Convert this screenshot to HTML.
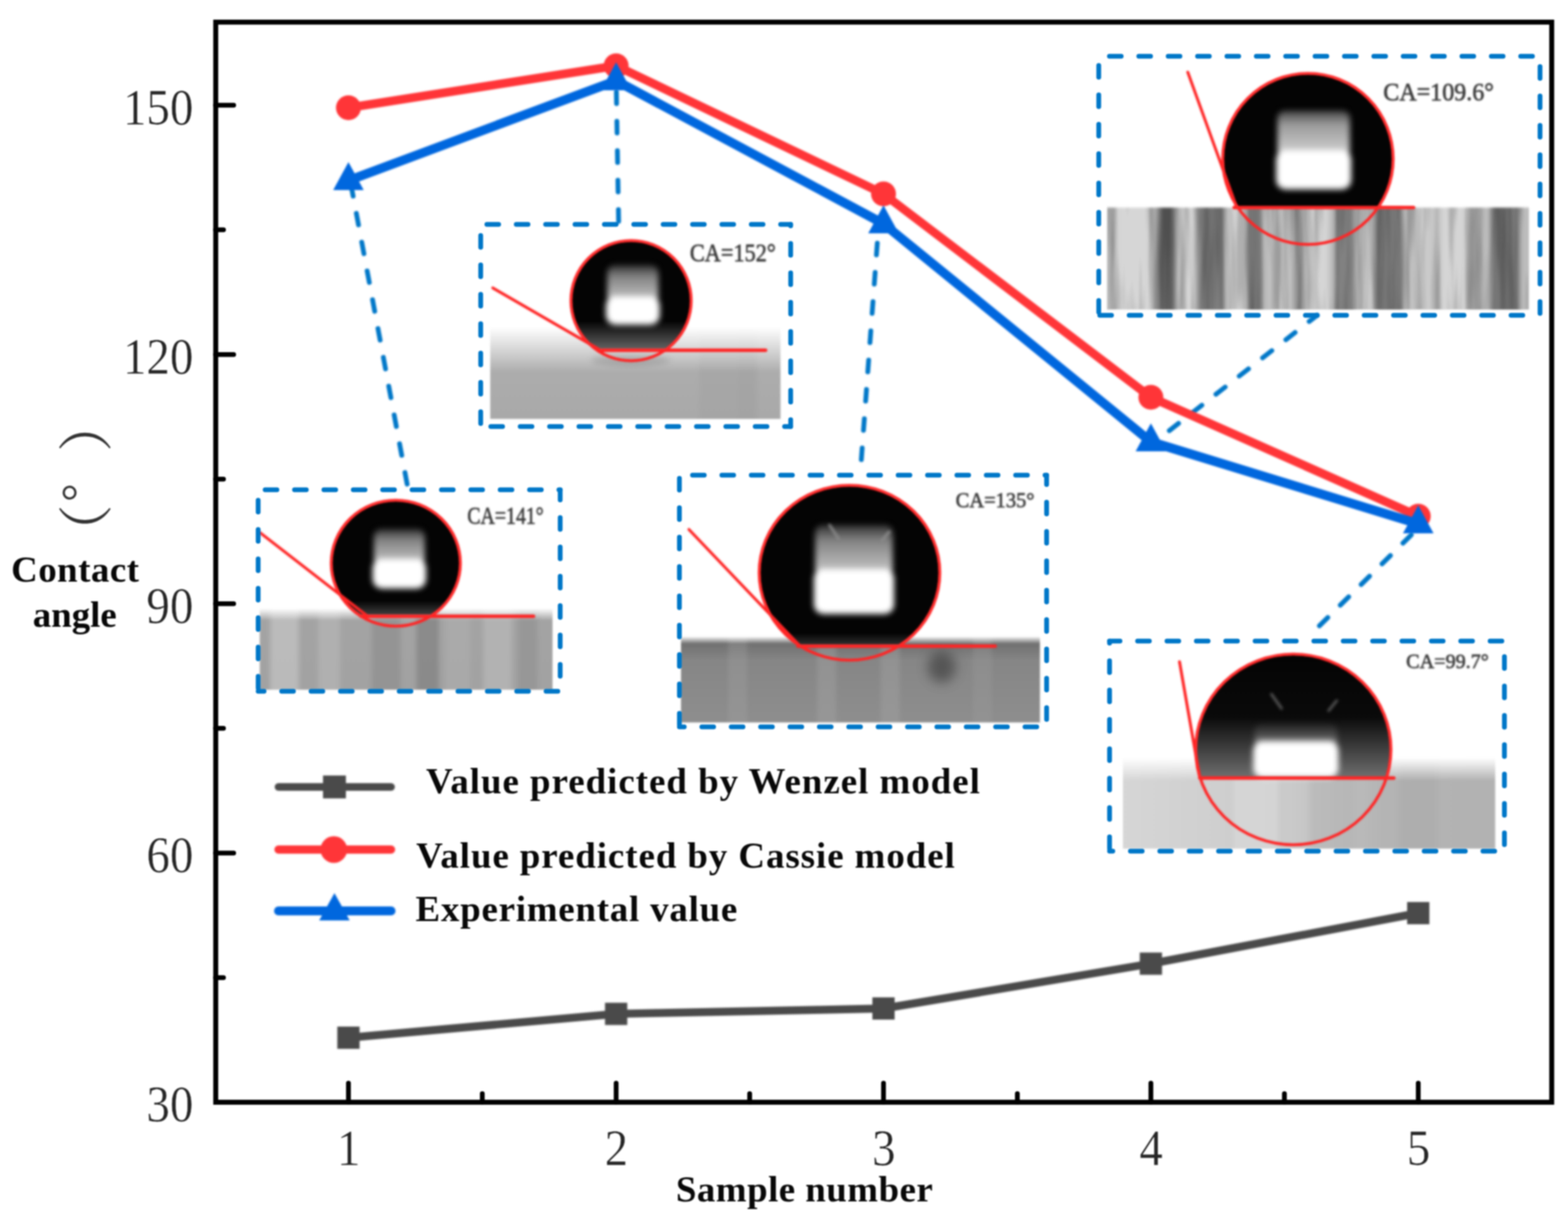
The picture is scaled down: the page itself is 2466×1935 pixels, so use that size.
<!DOCTYPE html>
<html lang="en"><head><meta charset="utf-8"><title>Contact angle vs sample number</title>
<style>
html,body{margin:0;padding:0;background:#fff;}
body{width:2466px;height:1935px;overflow:hidden;}
svg{display:block;}
.tick{font-family:"Liberation Serif","Noto Serif CJK SC",serif;font-size:80.5px;fill:#262626;stroke:#fff;stroke-width:0.5px;paint-order:fill stroke;}
.lab{font-family:"Liberation Serif","Noto Serif CJK SC",serif;font-size:58px;font-weight:bold;fill:#080808;}
.ca{font-family:"Liberation Serif",serif;fill:#383838;stroke:#383838;stroke-width:0.9px;}
.unit{font-family:"Liberation Serif","Noto Serif CJK SC",serif;fill:#333;}
</style></head><body>
<svg width="2466" height="1935" viewBox="0 0 2466 1935">
<defs>
<filter id="soft" color-interpolation-filters="sRGB" x="0" y="0" width="2466" height="1935" filterUnits="userSpaceOnUse"><feGaussianBlur stdDeviation="1.15"/></filter>
<filter id="b2" color-interpolation-filters="sRGB" x="-20%" y="-20%" width="140%" height="140%"><feGaussianBlur stdDeviation="2"/></filter>
<filter id="b3" color-interpolation-filters="sRGB" x="-20%" y="-20%" width="140%" height="140%"><feGaussianBlur stdDeviation="3.5"/></filter>
<filter id="b5" color-interpolation-filters="sRGB" x="-30%" y="-30%" width="160%" height="160%"><feGaussianBlur stdDeviation="5"/></filter>
<filter id="b9" color-interpolation-filters="sRGB" x="-60%" y="-60%" width="220%" height="220%"><feGaussianBlur stdDeviation="9"/></filter>
<filter id="s1" color-interpolation-filters="sRGB" x="0" y="0" width="2466" height="1935" filterUnits="userSpaceOnUse"><feGaussianBlur stdDeviation="1.1"/></filter>
<filter id="b1" color-interpolation-filters="sRGB" x="-5%" y="-5%" width="110%" height="110%"><feGaussianBlur stdDeviation="0.8"/></filter>
<filter id="bt" color-interpolation-filters="sRGB" x="-5%" y="-20%" width="110%" height="140%"><feGaussianBlur stdDeviation="1.3"/></filter>
<filter id="noise" color-interpolation-filters="sRGB" x="0" y="0" width="100%" height="100%">
<feTurbulence type="fractalNoise" baseFrequency="0.075 0.004" numOctaves="3" seed="11" result="n"/>
<feColorMatrix in="n" type="matrix" values="0 0 0 0 0  0 0 0 0 0  0 0 0 0 0  2.6 0 0 0 -0.95" result="a"/>
<feGaussianBlur in="a" stdDeviation="1.6" result="ab"/>
<feComposite in="ab" in2="SourceGraphic" operator="in"/>
</filter>
</defs>
<rect width="2466" height="1935" fill="#fff"/>
<g filter="url(#soft)">

<g id="inset1">
<defs>
<linearGradient id="sm1" gradientUnits="userSpaceOnUse" x1="0" y1="957" x2="0" y2="976"><stop offset="0" stop-color="#000"/><stop offset="1" stop-color="#fff"/></linearGradient>
<mask id="mk1" maskUnits="userSpaceOnUse" x="398.5" y="947" width="480.5" height="148"><rect x="408.5" y="957" width="460.5" height="128" fill="url(#sm1)" filter="url(#b1)"/></mask>
<linearGradient id="sg1" gradientUnits="userSpaceOnUse" x1="0" y1="963" x2="0" y2="1085"><stop offset="0" stop-color="#a4a4a4"/><stop offset="1" stop-color="#a2a2a2"/></linearGradient>
<linearGradient id="hg1" x1="0" y1="0" x2="0" y2="1"><stop offset="0" stop-color="#333"/><stop offset="0.3" stop-color="#828282"/><stop offset="1" stop-color="#cecece"/></linearGradient>
<linearGradient id="dg1" gradientUnits="userSpaceOnUse" x1="0" y1="787" x2="0" y2="985"><stop offset="0.0000" stop-color="#040404" stop-opacity="1"/><stop offset="0.7980" stop-color="#040404" stop-opacity="1"/><stop offset="0.9040" stop-color="#3c3c3c" stop-opacity="1"/><stop offset="0.9268" stop-color="#555" stop-opacity="0"/><stop offset="1.0253" stop-color="#555" stop-opacity="0"/></linearGradient>
<clipPath id="cc1"><ellipse cx="622.5" cy="886" rx="100.5" ry="98"/></clipPath>
</defs>
<g mask="url(#mk1)"><rect x="403.5" y="952" width="470.5" height="138" fill="url(#sg1)"/>
<g filter="url(#b3)">
<rect x="425" y="942" width="45" height="158" fill="#c4c4c4" opacity="0.7"/>
<rect x="500" y="942" width="35" height="158" fill="#bdbdbd" opacity="0.5"/>
<rect x="585" y="942" width="45" height="158" fill="#8a8a8a" opacity="0.6"/>
<rect x="655" y="942" width="35" height="158" fill="#808080" opacity="0.7"/>
<rect x="700" y="942" width="40" height="158" fill="#b4b4b4" opacity="0.4"/>
<rect x="760" y="942" width="45" height="158" fill="#bcbcbc" opacity="0.6"/>
<rect x="815" y="942" width="30" height="158" fill="#8c8c8c" opacity="0.5"/>
</g>
</g>
<g clip-path="url(#cc1)">
<rect x="516.0" y="782" width="213.0" height="208" fill="url(#dg1)"/>
<g filter="url(#b5)"><rect x="588" y="832" width="80" height="59" rx="12" fill="url(#hg1)"/>
<rect x="586" y="879" width="84" height="47" rx="15" fill="#fff"/></g>
</g>
<g fill="none" stroke="#ff2525" stroke-linecap="round" filter="url(#b1)">
<ellipse cx="622.5" cy="886" rx="101.5" ry="99" stroke-width="4.6"/>
<line x1="568" y1="969.5" x2="839" y2="969.5" stroke-width="5.5"/>
<line x1="409" y1="838" x2="579" y2="970" stroke-width="4.6"/>
</g>
<text class="ca" x="735" y="824" font-size="37" textLength="120" lengthAdjust="spacingAndGlyphs" filter="url(#bt)">CA=141°</text>
<g fill="none" stroke="#0077c8" stroke-width="7.5" stroke-linecap="round" stroke-dasharray="18.5 27.7">
<line x1="406" y1="770.5" x2="881" y2="770.5" stroke-dashoffset="-11.0"/>
<line x1="881" y1="770.5" x2="881" y2="1087.5" stroke-dashoffset="-43.7"/>
<line x1="406" y1="1087.5" x2="881" y2="1087.5" stroke-dashoffset="-37.0"/>
<line x1="406" y1="770.5" x2="406" y2="1087.5" stroke-dashoffset="-16.4"/>
</g>
</g>
<g id="inset2">
<defs>
<linearGradient id="sm2" gradientUnits="userSpaceOnUse" x1="0" y1="514" x2="0" y2="585"><stop offset="0" stop-color="#000"/><stop offset="1" stop-color="#fff"/></linearGradient>
<mask id="mk2" maskUnits="userSpaceOnUse" x="761" y="504" width="476.5" height="165"><rect x="771" y="514" width="456.5" height="145" fill="url(#sm2)" filter="url(#b1)"/></mask>
<linearGradient id="sg2" gradientUnits="userSpaceOnUse" x1="0" y1="518" x2="0" y2="659"><stop offset="0" stop-color="#b0b0b0"/><stop offset="1" stop-color="#a9a9a9"/></linearGradient>
<linearGradient id="hg2" x1="0" y1="0" x2="0" y2="1"><stop offset="0" stop-color="#333"/><stop offset="0.3" stop-color="#828282"/><stop offset="1" stop-color="#cecece"/></linearGradient>
<linearGradient id="dg2" gradientUnits="userSpaceOnUse" x1="0" y1="378.5" x2="0" y2="567.5"><stop offset="-0.0026" stop-color="#040404" stop-opacity="1"/><stop offset="0.6693" stop-color="#040404" stop-opacity="1"/><stop offset="0.8968" stop-color="#606060" stop-opacity="1"/><stop offset="0.9206" stop-color="#777" stop-opacity="0"/><stop offset="1.0132" stop-color="#777" stop-opacity="0"/></linearGradient>
<clipPath id="cc2"><ellipse cx="992.5" cy="473" rx="93.5" ry="93.5"/></clipPath>
</defs>
<g mask="url(#mk2)"><rect x="766" y="509" width="466.5" height="155" fill="url(#sg2)"/>
<g filter="url(#b3)">
<rect x="1100" y="499" width="60" height="175" fill="#a0a0a0" opacity="0.4"/>
<rect x="1160" y="499" width="30" height="175" fill="#9c9c9c" opacity="0.4"/>
</g>
<ellipse cx="992" cy="566" rx="62" ry="9" fill="#707070" opacity="0.55" filter="url(#b5)"/>
</g>
<g clip-path="url(#cc2)">
<rect x="893.0" y="373.5" width="199.0" height="199.0" fill="url(#dg2)"/>
<g filter="url(#b5)"><rect x="955" y="417" width="80.5" height="61" rx="12" fill="url(#hg2)"/>
<rect x="953" y="466" width="84.5" height="45" rx="15" fill="#fff"/></g>
</g>
<g fill="none" stroke="#ff2525" stroke-linecap="round" filter="url(#b1)">
<ellipse cx="992.5" cy="473" rx="94.5" ry="94.5" stroke-width="4.6"/>
<line x1="948" y1="551" x2="1204" y2="551" stroke-width="5.5"/>
<line x1="775" y1="453" x2="948" y2="553" stroke-width="4.6"/>
</g>
<text class="ca" x="1085" y="410.5" font-size="40" textLength="135" lengthAdjust="spacingAndGlyphs" filter="url(#bt)">CA=152°</text>
<g fill="none" stroke="#0077c8" stroke-width="7.5" stroke-linecap="round" stroke-dasharray="18.5 27.7">
<line x1="756" y1="353" x2="1243.5" y2="353" stroke-dashoffset="-9.7"/>
<line x1="1243.5" y1="353" x2="1243.5" y2="671" stroke-dashoffset="-30.0"/>
<line x1="756" y1="671" x2="1243.5" y2="671" stroke-dashoffset="-15.9"/>
<line x1="756" y1="353" x2="756" y2="671" stroke-dashoffset="-17.6"/>
</g>
</g>
<g id="inset3">
<defs>
<linearGradient id="sm3" gradientUnits="userSpaceOnUse" x1="0" y1="1001" x2="0" y2="1013"><stop offset="0" stop-color="#000"/><stop offset="1" stop-color="#fff"/></linearGradient>
<mask id="mk3" maskUnits="userSpaceOnUse" x="1061" y="991" width="584.5" height="155.5"><rect x="1071" y="1001" width="564.5" height="135.5" fill="url(#sm3)" filter="url(#b1)"/></mask>
<linearGradient id="sg3" gradientUnits="userSpaceOnUse" x1="0" y1="1007" x2="0" y2="1136"><stop offset="0" stop-color="#6c6c6c"/><stop offset="0.25" stop-color="#868686"/><stop offset="1" stop-color="#8e8e8e"/></linearGradient>
<linearGradient id="hg3" x1="0" y1="0" x2="0" y2="1"><stop offset="0" stop-color="#333"/><stop offset="0.3" stop-color="#828282"/><stop offset="1" stop-color="#cecece"/></linearGradient>
<linearGradient id="dg3" gradientUnits="userSpaceOnUse" x1="0" y1="763.5" x2="0" y2="1038.5"><stop offset="-0.0018" stop-color="#040404" stop-opacity="1"/><stop offset="0.8455" stop-color="#040404" stop-opacity="1"/><stop offset="0.9073" stop-color="#2c2c2c" stop-opacity="1"/><stop offset="0.9236" stop-color="#555" stop-opacity="0"/><stop offset="1.0055" stop-color="#555" stop-opacity="0"/></linearGradient>
<clipPath id="cc3"><ellipse cx="1336" cy="901" rx="141" ry="136.5"/></clipPath>
</defs>
<g mask="url(#mk3)"><rect x="1066" y="996" width="574.5" height="145.5" fill="url(#sg3)"/>
<g filter="url(#b3)">
<rect x="1145" y="986" width="30" height="165.5" fill="#a4a4a4" opacity="0.3"/>
<rect x="1285" y="986" width="30" height="165.5" fill="#a8a8a8" opacity="0.35"/>
<rect x="1385" y="986" width="30" height="165.5" fill="#a8a8a8" opacity="0.35"/>
<rect x="1530" y="986" width="30" height="165.5" fill="#a0a0a0" opacity="0.3"/>
</g>
<ellipse cx="1481" cy="1049" rx="22" ry="25" fill="#454545" opacity="0.75" filter="url(#b9)"/>
</g>
<g clip-path="url(#cc3)">
<rect x="1189" y="758.5" width="294" height="285.0" fill="url(#dg3)"/>
<g filter="url(#b5)"><rect x="1282" y="826" width="122" height="81" rx="12" fill="url(#hg3)"/>
<rect x="1280" y="895" width="126" height="71" rx="15" fill="#fff"/></g>
<g stroke="#8c8c8c" stroke-width="4" stroke-linecap="round" filter="url(#b2)"><line x1="1304.5" y1="826" x2="1319" y2="848"/><line x1="1387" y1="851" x2="1398.5" y2="836.5"/></g>
</g>
<g fill="none" stroke="#ff2525" stroke-linecap="round" filter="url(#b1)">
<ellipse cx="1336" cy="901" rx="142" ry="137.5" stroke-width="4.6"/>
<line x1="1255" y1="1016.5" x2="1565" y2="1016.5" stroke-width="5.5"/>
<line x1="1083.5" y1="833" x2="1258" y2="1016" stroke-width="4.6"/>
</g>
<text class="ca" x="1503" y="798" font-size="34" textLength="124" lengthAdjust="spacingAndGlyphs" filter="url(#bt)">CA=135°</text>
<g fill="none" stroke="#0077c8" stroke-width="7.5" stroke-linecap="round" stroke-dasharray="18.5 27.7">
<line x1="1068.5" y1="747.5" x2="1646" y2="747.5" stroke-dashoffset="-20.6"/>
<line x1="1646" y1="747.5" x2="1646" y2="1143.5" stroke-dashoffset="-42.4"/>
<line x1="1068.5" y1="1143.5" x2="1646" y2="1143.5" stroke-dashoffset="-35.3"/>
<line x1="1068.5" y1="747.5" x2="1068.5" y2="1143.5" stroke-dashoffset="-5.1"/>
</g>
</g>
<g id="inset4">
<defs>
<linearGradient id="sm4" gradientUnits="userSpaceOnUse" x1="0" y1="324" x2="0" y2="329"><stop offset="0" stop-color="#000"/><stop offset="1" stop-color="#fff"/></linearGradient>
<mask id="mk4" maskUnits="userSpaceOnUse" x="1731" y="314" width="683.5" height="183"><rect x="1741" y="324" width="663.5" height="163" fill="url(#sm4)" filter="url(#b1)"/></mask>
<linearGradient id="sg4" gradientUnits="userSpaceOnUse" x1="0" y1="327" x2="0" y2="487"><stop offset="0" stop-color="#bcbcbc"/><stop offset="1" stop-color="#bcbcbc"/></linearGradient>
<linearGradient id="hg4" x1="0" y1="0" x2="0" y2="1"><stop offset="0" stop-color="#444"/><stop offset="0.3" stop-color="#9a9a9a"/><stop offset="1" stop-color="#d8d8d8"/></linearGradient>
<linearGradient id="dg4" gradientUnits="userSpaceOnUse" x1="0" y1="115.5" x2="0" y2="384.5"><stop offset="-0.0019" stop-color="#040404" stop-opacity="1"/><stop offset="0.7807" stop-color="#040404" stop-opacity="1"/><stop offset="0.7881" stop-color="#000" stop-opacity="0"/><stop offset="1.0056" stop-color="#000" stop-opacity="0"/></linearGradient>
<clipPath id="cc4"><ellipse cx="2057" cy="250" rx="133" ry="133.5"/></clipPath>
</defs>
<g mask="url(#mk4)"><rect x="1736" y="319" width="673.5" height="173" fill="url(#sg4)"/>
<g filter="url(#b3)">
<rect x="1755" y="309" width="55" height="193" fill="#dcdcdc" opacity="0.8"/>
<rect x="1822" y="309" width="26" height="193" fill="#505050" opacity="0.8"/>
<rect x="1858" y="309" width="20" height="193" fill="#e0e0e0" opacity="0.7"/>
<rect x="1883" y="309" width="42" height="193" fill="#666" opacity="0.7"/>
<rect x="1935" y="309" width="25" height="193" fill="#ececec" opacity="0.8"/>
<rect x="1962" y="309" width="22" height="193" fill="#555" opacity="0.7"/>
<rect x="1998" y="309" width="30" height="193" fill="#d0d0d0" opacity="0.7"/>
<rect x="2035" y="309" width="12" height="193" fill="#777" opacity="0.6"/>
<rect x="2060" y="309" width="30" height="193" fill="#e0e0e0" opacity="0.7"/>
<rect x="2100" y="309" width="30" height="193" fill="#686868" opacity="0.7"/>
<rect x="2140" y="309" width="20" height="193" fill="#d0d0d0" opacity="0.6"/>
<rect x="2165" y="309" width="40" height="193" fill="#585858" opacity="0.7"/>
<rect x="2215" y="309" width="40" height="193" fill="#d0d0d0" opacity="0.7"/>
<rect x="2265" y="309" width="40" height="193" fill="#e0e0e0" opacity="0.7"/>
<rect x="2310" y="309" width="20" height="193" fill="#999" opacity="0.6"/>
<rect x="2345" y="309" width="45" height="193" fill="#585858" opacity="0.7"/>
</g>
<rect x="1741" y="324" width="663.5" height="163" fill="#000" opacity="0.22" filter="url(#noise)"/>
</g>
<g clip-path="url(#cc4)">
<rect x="1918" y="110.5" width="278" height="279.0" fill="url(#dg4)"/>
<g filter="url(#b5)"><rect x="2009" y="174" width="114" height="74" rx="12" fill="url(#hg4)"/>
<rect x="2007" y="236" width="118" height="62" rx="15" fill="#fff"/></g>
</g>
<g fill="none" stroke="#ff2525" stroke-linecap="round" filter="url(#b1)">
<ellipse cx="2057" cy="250" rx="134" ry="134.5" stroke-width="4.6"/>
<line x1="1941" y1="326.5" x2="2223" y2="326.5" stroke-width="5.5"/>
<line x1="1868" y1="113.5" x2="1944.5" y2="325" stroke-width="4.6"/>
</g>
<text class="ca" x="2175.5" y="158" font-size="39" textLength="174" lengthAdjust="spacingAndGlyphs" filter="url(#bt)">CA=109.6°</text>
<g fill="none" stroke="#0077c8" stroke-width="7.5" stroke-linecap="round" stroke-dasharray="18.5 27.7">
<line x1="1728" y1="88.5" x2="2422" y2="88.5" stroke-dashoffset="-16.8"/>
<line x1="2422" y1="88.5" x2="2422" y2="496" stroke-dashoffset="-16.3"/>
<line x1="1728" y1="496" x2="2422" y2="496" stroke-dashoffset="-1.6"/>
<line x1="1728" y1="88.5" x2="1728" y2="496" stroke-dashoffset="-14.6"/>
</g>
</g>
<g id="inset5">
<defs>
<linearGradient id="sm5" gradientUnits="userSpaceOnUse" x1="0" y1="1192" x2="0" y2="1228"><stop offset="0" stop-color="#000"/><stop offset="1" stop-color="#fff"/></linearGradient>
<mask id="mk5" maskUnits="userSpaceOnUse" x="1756" y="1182" width="605.5" height="163"><rect x="1766" y="1192" width="585.5" height="143" fill="url(#sm5)" filter="url(#b1)"/></mask>
<linearGradient id="sg5" gradientUnits="userSpaceOnUse" x1="1766" y1="0" x2="2351" y2="0"><stop offset="0" stop-color="#d6d6d6"/><stop offset="0.45" stop-color="#cacaca"/><stop offset="0.7" stop-color="#b4b4b4"/><stop offset="1" stop-color="#b2b2b2"/></linearGradient>
<linearGradient id="hg5" x1="0" y1="0" x2="0" y2="1"><stop offset="0" stop-color="#222"/><stop offset="0.5" stop-color="#555"/><stop offset="1" stop-color="#c0c0c0"/></linearGradient>
<linearGradient id="dg5" gradientUnits="userSpaceOnUse" x1="0" y1="1029" x2="0" y2="1329"><stop offset="0.0000" stop-color="#040404" stop-opacity="1"/><stop offset="0.3300" stop-color="#0a0a0a" stop-opacity="1"/><stop offset="0.5700" stop-color="#565656" stop-opacity="1"/><stop offset="0.6433" stop-color="#6e6e6e" stop-opacity="1"/><stop offset="0.6567" stop-color="#888" stop-opacity="0"/><stop offset="1.0033" stop-color="#888" stop-opacity="0"/></linearGradient>
<clipPath id="cc5"><ellipse cx="2034" cy="1179" rx="152.5" ry="149"/></clipPath>
</defs>
<g mask="url(#mk5)"><rect x="1761" y="1187" width="595.5" height="153" fill="url(#sg5)"/>
<g filter="url(#b3)">
<rect x="1940" y="1177" width="70" height="173" fill="#dedede" opacity="0.5"/>
<rect x="2060" y="1177" width="70" height="173" fill="#b0b0b0" opacity="0.4"/>
<rect x="2200" y="1177" width="60" height="173" fill="#a8a8a8" opacity="0.4"/>
</g>
</g>
<g clip-path="url(#cc5)">
<rect x="1875.5" y="1024" width="317.0" height="310" fill="url(#dg5)"/>
<g filter="url(#b5)"><rect x="1973" y="1140" width="130" height="38" rx="12" fill="url(#hg5)"/>
<rect x="1971" y="1166" width="134" height="58" rx="15" fill="#fff"/></g>
<g stroke="#5a5a5a" stroke-width="4" stroke-linecap="round" filter="url(#b2)"><line x1="1999.5" y1="1092" x2="2015.5" y2="1114.5"/><line x1="2089.5" y1="1118" x2="2102.5" y2="1102"/></g>
</g>
<g fill="none" stroke="#ff2525" stroke-linecap="round" filter="url(#b1)">
<ellipse cx="2034" cy="1179" rx="153.5" ry="150" stroke-width="4.6"/>
<line x1="1887" y1="1224" x2="2192" y2="1224" stroke-width="5.5"/>
<line x1="1855" y1="1041" x2="1887" y2="1224" stroke-width="4.6"/>
</g>
<text class="ca" x="2211.5" y="1050.5" font-size="31" textLength="130" lengthAdjust="spacingAndGlyphs" filter="url(#bt)">CA=99.7°</text>
<g fill="none" stroke="#0077c8" stroke-width="7.5" stroke-linecap="round" stroke-dasharray="18.5 27.7">
<line x1="1745" y1="1008.5" x2="2366" y2="1008.5" stroke-dashoffset="-44.1"/>
<line x1="2366" y1="1008.5" x2="2366" y2="1339" stroke-dashoffset="-24.5"/>
<line x1="1745" y1="1339" x2="2366" y2="1339" stroke-dashoffset="-32.8"/>
<line x1="1745" y1="1008.5" x2="1745" y2="1339" stroke-dashoffset="-30.9"/>
</g>
</g>
<g fill="none" stroke="#0077c8" stroke-width="7.5" stroke-linecap="round" filter="url(#s1)">
<line x1="553" y1="296" x2="641.5" y2="768" stroke-dasharray="18.5 27.60" stroke-dashoffset="5.8"/>
<line x1="969.3" y1="141" x2="973" y2="353" stroke-dasharray="18.5 27.80" stroke-dashoffset="-3.5"/>
<line x1="1380" y1="379" x2="1354.3" y2="727.3" stroke-dasharray="18.5 27.65" stroke-dashoffset="-3.5"/>
<line x1="1836.2" y1="679.6" x2="2071.5" y2="496" stroke-dasharray="18.5 28.00" stroke-dashoffset="-3.5"/>
<line x1="2222" y1="839" x2="2056.4" y2="1003" stroke-dasharray="18.5 27.70" stroke-dashoffset="-3.5"/>
</g>
<g stroke="#000" fill="none">
<rect x="339.3" y="34.8" width="2101.1" height="1699.2" stroke-width="7.8"/>
<g stroke-width="7.5" stroke-linecap="round">
<line x1="339" y1="165.6" x2="367.5" y2="165.6"/>
<line x1="339" y1="557.7" x2="367.5" y2="557.7"/>
<line x1="339" y1="949.8" x2="367.5" y2="949.8"/>
<line x1="339" y1="1341.9" x2="367.5" y2="1341.9"/>
<line x1="339" y1="361.6" x2="351.5" y2="361.6"/>
<line x1="339" y1="753.8" x2="351.5" y2="753.8"/>
<line x1="339" y1="1145.8" x2="351.5" y2="1145.8"/>
<line x1="339" y1="1538.0" x2="351.5" y2="1538.0"/>
<line x1="548" y1="1734" x2="548" y2="1704"/>
<line x1="969" y1="1734" x2="969" y2="1704"/>
<line x1="1389.5" y1="1734" x2="1389.5" y2="1704"/>
<line x1="1810" y1="1734" x2="1810" y2="1704"/>
<line x1="2230.5" y1="1734" x2="2230.5" y2="1704"/>
<line x1="758.5" y1="1734" x2="758.5" y2="1720.5"/>
<line x1="1179" y1="1734" x2="1179" y2="1720.5"/>
<line x1="1600" y1="1734" x2="1600" y2="1720.5"/>
<line x1="2020" y1="1734" x2="2020" y2="1720.5"/>
</g></g>
<g filter="url(#s1)">
<polyline points="548,1632.5 969,1595 1389.5,1586.5 1810,1516 2230.5,1436.5" fill="none" stroke="#4a4a4a" stroke-width="12.5" stroke-linejoin="round"/>
<rect x="530.5" y="1615.0" width="35" height="35" fill="#4a4a4a"/>
<rect x="951.5" y="1577.5" width="35" height="35" fill="#4a4a4a"/>
<rect x="1372.0" y="1569.0" width="35" height="35" fill="#4a4a4a"/>
<rect x="1792.5" y="1498.5" width="35" height="35" fill="#4a4a4a"/>
<rect x="2213.0" y="1419.0" width="35" height="35" fill="#4a4a4a"/>
<polyline points="548,169.5 969,103.5 1389.5,305 1810,625 2230.5,812" fill="none" stroke="#ff3538" stroke-width="13.5" stroke-linejoin="round"/>
<circle cx="548" cy="169.5" r="19.6" fill="#ff3538"/>
<circle cx="969" cy="103.5" r="19.6" fill="#ff3538"/>
<circle cx="1389.5" cy="305" r="19.6" fill="#ff3538"/>
<circle cx="1810" cy="625" r="19.6" fill="#ff3538"/>
<circle cx="2230.5" cy="812" r="19.6" fill="#ff3538"/>
<polyline points="548,284 969,127 1389.5,352 1810,695 2230.5,824" fill="none" stroke="#0067de" stroke-width="14.5" stroke-linejoin="round"/>
<polygon points="548,255 572,299 524,299" fill="#0067de"/>
<polygon points="969,98 993,142 945,142" fill="#0067de"/>
<polygon points="1389.5,323 1413.5,367 1365.5,367" fill="#0067de"/>
<polygon points="1810,666 1834,710 1786,710" fill="#0067de"/>
<polygon points="2230.5,795 2254.5,839 2206.5,839" fill="#0067de"/>
</g>
<g filter="url(#s1)">
<line x1="438" y1="1238" x2="615" y2="1238" stroke="#4a4a4a" stroke-width="12" stroke-linecap="round"/>
<rect x="508" y="1220" width="36" height="36" fill="#4a4a4a"/>
<line x1="438" y1="1336.5" x2="615" y2="1336.5" stroke="#ff3538" stroke-width="13" stroke-linecap="round"/>
<circle cx="525" cy="1336.5" r="21" fill="#ff3538"/>
<line x1="438" y1="1433" x2="615" y2="1433" stroke="#0067de" stroke-width="14" stroke-linecap="round"/>
<polygon points="526,1405 550,1448 502,1448" fill="#0067de"/>
</g>
<text class="lab" x="670" y="1248" textLength="871" lengthAdjust="spacing">Value predicted by Wenzel model</text>
<text class="lab" x="654.5" y="1365" textLength="847" lengthAdjust="spacing">Value predicted by Cassie model</text>
<text class="lab" x="653.5" y="1449" textLength="506" lengthAdjust="spacing">Experimental value</text>
<text class="lab" x="1063" y="1890" textLength="404" lengthAdjust="spacing">Sample number</text>
<text class="lab" x="17.5" y="915" textLength="201" lengthAdjust="spacing">Contact</text>
<text class="lab" x="51.5" y="986" textLength="132" lengthAdjust="spacing">angle</text>
<g class="unit">
<text font-size="86.5" text-anchor="middle" transform="translate(100 667.8) rotate(90)">（</text>
<text x="109.5" y="812.3" font-size="72.5" text-anchor="middle">°</text>
<text font-size="86.5" text-anchor="middle" transform="translate(100 836.7) rotate(90)">）</text>
</g>
<text class="tick" text-anchor="end" transform="translate(304 195.6) scale(0.915 1)">150</text>
<text class="tick" text-anchor="end" transform="translate(304 587.7) scale(0.915 1)">120</text>
<text class="tick" text-anchor="end" transform="translate(304 979.8) scale(0.915 1)">90</text>
<text class="tick" text-anchor="end" transform="translate(304 1371.9) scale(0.915 1)">60</text>
<text class="tick" text-anchor="end" transform="translate(304 1764.0) scale(0.915 1)">30</text>
<text class="tick" text-anchor="middle" transform="translate(548.5 1833.3) scale(0.915 1)">1</text>
<text class="tick" text-anchor="middle" transform="translate(969.5 1833.3) scale(0.915 1)">2</text>
<text class="tick" text-anchor="middle" transform="translate(1390.0 1833.3) scale(0.915 1)">3</text>
<text class="tick" text-anchor="middle" transform="translate(1810.5 1833.3) scale(0.915 1)">4</text>
<text class="tick" text-anchor="middle" transform="translate(2231.0 1833.3) scale(0.915 1)">5</text>
</g>
</svg></body></html>
